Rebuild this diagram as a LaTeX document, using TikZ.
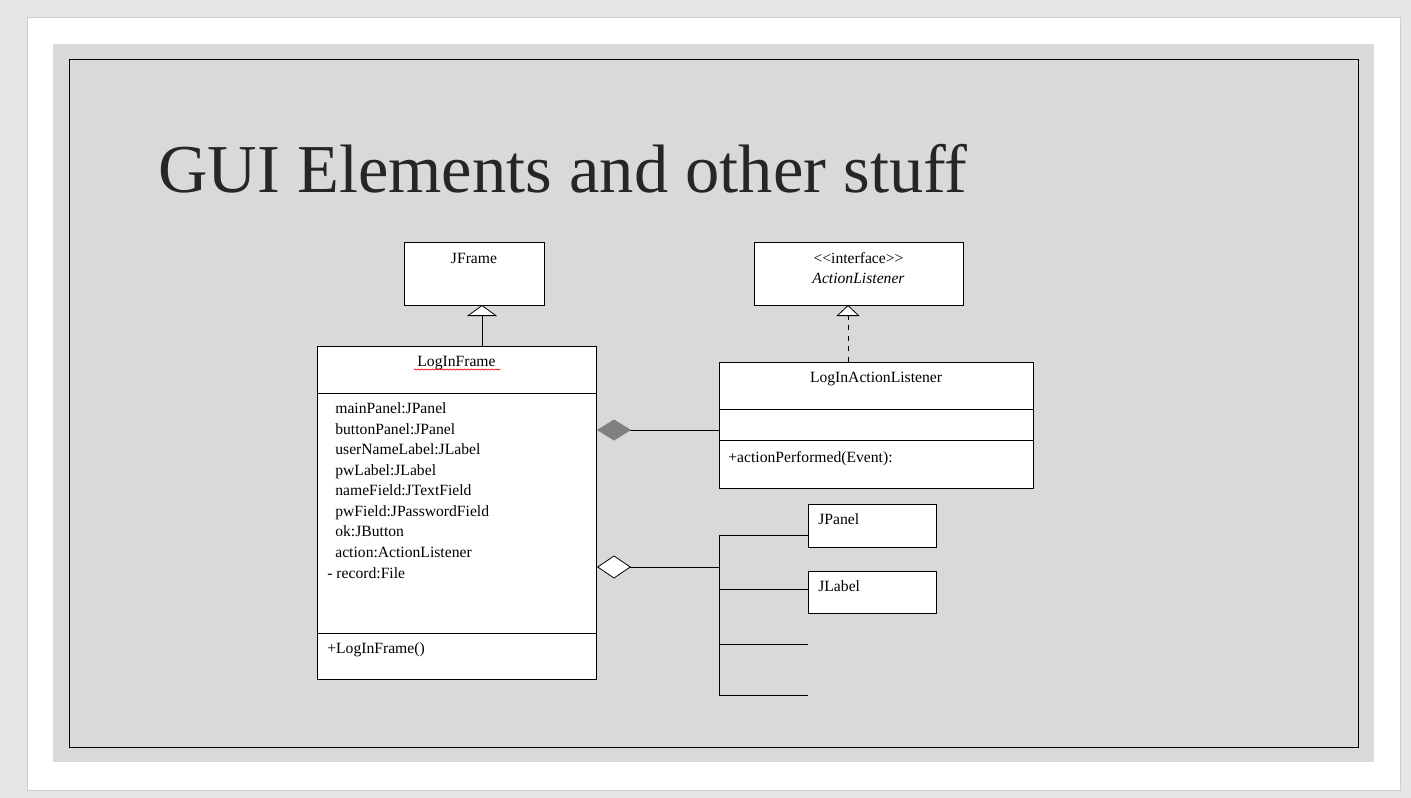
\documentclass[tikz,border=0pt]{standalone}
\usepackage{fontspec}
\setmainfont{Liberation Serif}
\usetikzlibrary{arrows.meta,decorations.pathmorphing}
\definecolor{pagegray}{HTML}{E6E6E6}
\definecolor{slidegray}{HTML}{D9D9D9}
\definecolor{titlegray}{HTML}{262626}
\tikzset{
  box/.style={draw, fill=white, line width=0.45pt, inner sep=0pt},
  txt/.style={anchor=mid west, inner sep=0pt, font=\fontsize{8.9}{10}\selectfont},
  ctxt/.style={anchor=mid, inner sep=0pt, font=\fontsize{8.9}{10}\selectfont},
  link/.style={line width=0.45pt}
}
\begin{document}
\begin{tikzpicture}[x=0.02cm,y=-0.02cm]
\useasboundingbox (0,0) rectangle (1411,798);
\fill[pagegray] (0,0) rectangle (1411,798);
\filldraw[fill=white,draw=gray!40] (27,17) rectangle (1400,790);
\fill[slidegray] (53,44) rectangle (1374,762);
\draw[line width=0.45pt] (69,59) rectangle (1358,747);

\node[anchor=base west, inner sep=0pt, text=titlegray, font=\fontsize{39}{46}\selectfont] (title) at (158,192) {GUI Elements and other stuff};

% classes
\node[box, minimum width=2.8cm, minimum height=1.26cm] (jframe) at (474,273.5) {};
\node[ctxt] (jframeName) at (474,259) {JFrame};
\node[box, minimum width=4.18cm, minimum height=1.26cm] (alist) at (858.5,273.5) {};
\node[ctxt] (alistSt) at (858.5,259) {{<}{<}interface{>}{>}};
\node[ctxt] (alistName) at (858.5,279) {\itshape ActionListener};

\node[box, minimum width=5.58cm, minimum height=6.66cm] (frame) at (456.5,512.5) {};
\draw[link] (317,393) -- (596,393);
\draw[link] (317,633) -- (596,633);
\node[ctxt] (frameName) at (456.5,362) {LogInFrame};
\draw[red, line width=0.4pt, decorate, decoration={snake, amplitude=0.3pt, segment length=2pt}] (414,369.5) -- (500,369.5);
\foreach \y/\t in {409/mainPanel:JPanel, 430/buttonPanel:JPanel, 450/userNameLabel:JLabel,
  471/pwLabel:JLabel, 491/nameField:JTextField, 512/pwField:JPasswordField,
  532/ok:JButton, 553/action:ActionListener}
  \node[txt] at (335,\y) {\t};
\node[txt] (record) at (327,574) {- record:File};
\node[txt] (ctor) at (327,649) {+LogInFrame()};

\node[box, minimum width=6.28cm, minimum height=2.52cm] (listener) at (876,425) {};
\draw[link] (719,409) -- (1033,409);
\draw[link] (719,440) -- (1033,440);
\node[ctxt] (listenerName) at (876,378) {LogInActionListener};
\node[txt] (perform) at (728,458) {+actionPerformed(Event):};

\node[box, minimum width=2.56cm, minimum height=0.86cm] (panel) at (872,525.5) {};
\node[txt] at (818,520) {JPanel};
\node[box, minimum width=2.56cm, minimum height=0.84cm] (label) at (872,592) {};
\node[txt] at (818,587) {JLabel};

% connectors
\coordinate (inhA) at (482,346);
\coordinate (inhB) at (482,305);
\draw[link, -{Triangle[open, length=0.22cm, width=0.6cm, fill=white]}] (inhA) -- (inhB);
\coordinate (realA) at (848,362);
\coordinate (realB) at (848,305);
\draw[link, dashed, -{Triangle[open, length=0.22cm, width=0.46cm, fill=white]}] (realA) -- (realB);

\coordinate (compA) at (597,430);
\draw[link, {Diamond[length=0.68cm, width=0.42cm, fill=gray, color=gray]}-] (compA) -- (compA -| listener.west);

\coordinate (aggA) at (597,567);
\coordinate (aggB) at (719,567);
\draw[link, {Diamond[open, length=0.68cm, width=0.46cm, fill=white]}-] (aggA) -- (aggB);
\coordinate (busTop) at (719,535);
\coordinate (busBot) at (719,695);
\draw[link] (busTop) -- (busBot);
\draw[link] (busTop) -- (busTop -| panel.west);
\draw[link] (719,589) coordinate (b2) -- (b2 -| label.west);
\draw[link] (719,644) coordinate (b3) -- (808,644) coordinate (e3);
\draw[link] (busBot) -- (808,695) coordinate (e4);
\end{tikzpicture}
\end{document}
